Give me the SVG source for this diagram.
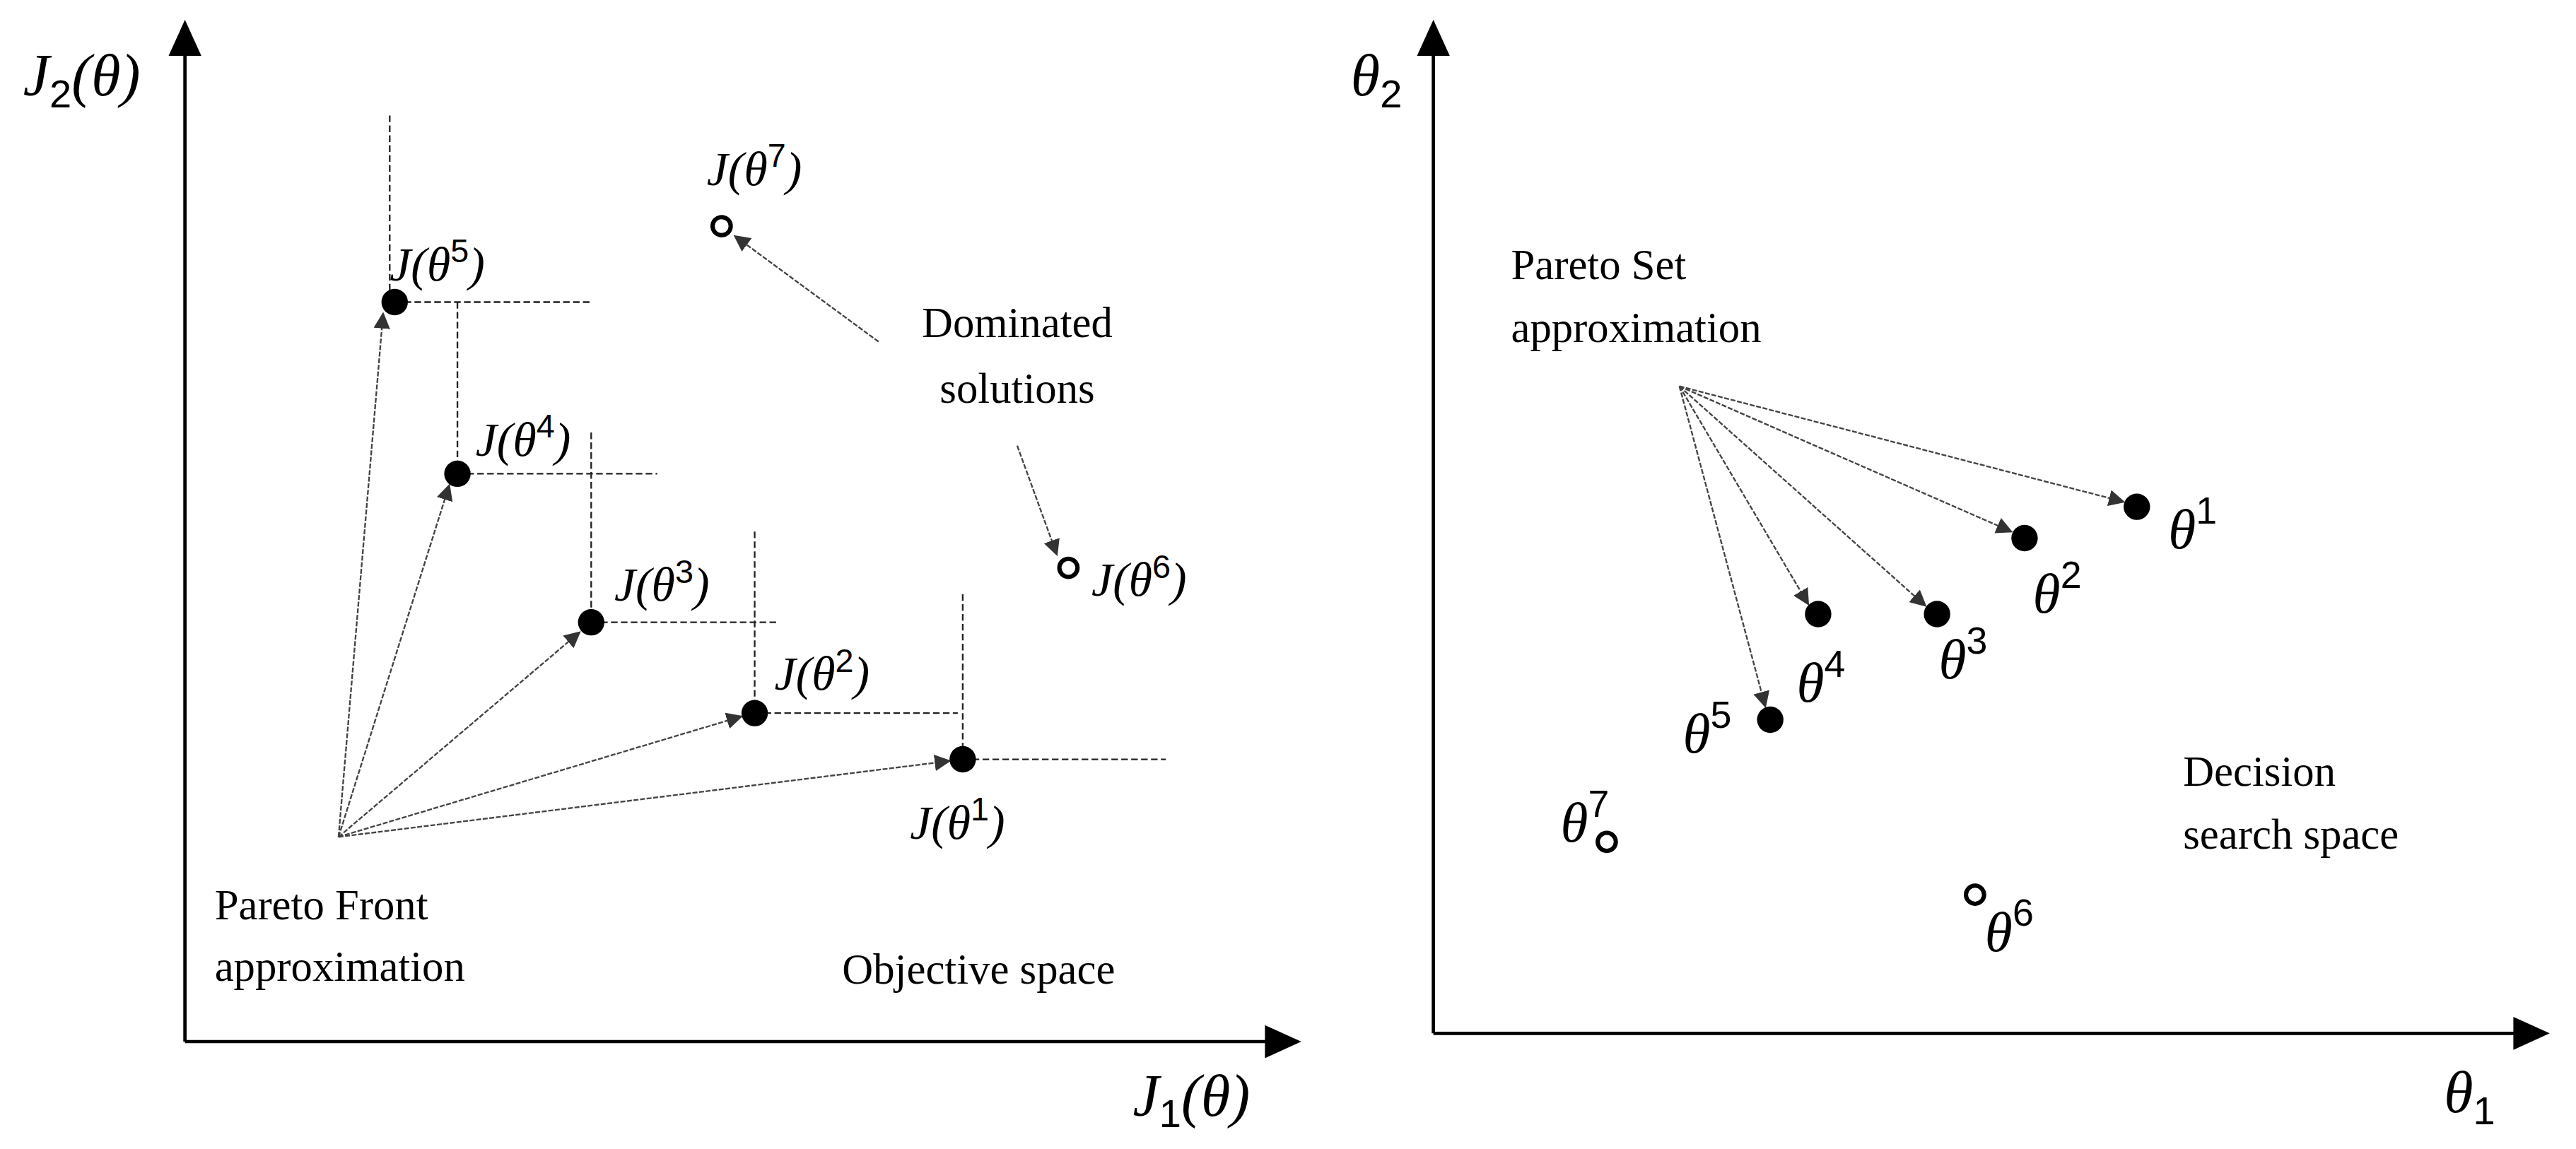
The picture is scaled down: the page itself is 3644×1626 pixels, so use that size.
<svg xmlns="http://www.w3.org/2000/svg" width="3644" height="1626" viewBox="0 0 3644 1626">
<style>
.ax{stroke:#000;stroke-width:2;fill:none}
.dl{stroke:#222;stroke-width:1;stroke-dasharray:4 2;fill:none}
.ar{stroke:#444;stroke-width:1;stroke-dasharray:3 1;fill:none;marker-end:url(#ah)}
.t{font-family:"Liberation Serif",serif;font-size:26px;fill:#000}
.m{font-family:"Liberation Serif",serif;font-style:italic;font-size:29px;fill:#000}
.mt{font-family:"Liberation Serif",serif;font-style:italic;font-size:34px;fill:#000}
.ml{font-family:"Liberation Serif",serif;font-style:italic;font-size:36px;fill:#000}
.s{font-size:20px;font-style:normal;font-family:"Liberation Sans",sans-serif}
.st{font-size:23px;font-style:normal;font-family:"Liberation Sans",sans-serif}
.sl{font-size:24px;font-style:normal;font-family:"Liberation Sans",sans-serif}
.dot{fill:#000}
.op{fill:#fff;stroke:#000;stroke-width:2.6}
</style>
<defs>
<marker id="ah" markerWidth="10" markerHeight="10" refX="9" refY="5" orient="auto" markerUnits="userSpaceOnUse"><path d="M0,0 L10,5 L0,10 z" fill="#333"/></marker>
<marker id="big" markerWidth="24" markerHeight="24" refX="2" refY="12" orient="auto" markerUnits="userSpaceOnUse"><path d="M0,2 L22,12 L0,22 z" fill="#000"/></marker>
</defs>
<rect width="3644" height="1626" fill="#fff"/>
<g transform="scale(2.336)">
<g id="connectors">
<path class="ax" d="M112,631 V32" marker-end="url(#big)"/>
<path class="ax" d="M112,631 H768" marker-end="url(#big)"/>
<path class="ax" d="M868,626 V32" marker-end="url(#big)"/>
<path class="ax" d="M868,626 H1524" marker-end="url(#big)"/>
<path class="dl" d="M236,70 V183 M239,183 H358 M277,183 V287 M277,287 H398 M358,262 V377 M358,377 H471 M457,322 V432 M457,432 H580 M583,360 V460 M583,460 H706"/>
<path class="ar" d="M205,507 L232,190"/>
<path class="ar" d="M205,507 L272,294"/>
<path class="ar" d="M205,507 L351,383"/>
<path class="ar" d="M205,507 L449,434"/>
<path class="ar" d="M205,507 L575,461"/>
<path class="ar" d="M532,207 L445,143"/>
<path class="ar" d="M616,270 L640,336"/>
<path class="ar" d="M1017,234 L1286,304"/>
<path class="ar" d="M1017,234 L1218,322"/>
<path class="ar" d="M1017,234 L1166,367"/>
<path class="ar" d="M1017,234 L1095,366"/>
<path class="ar" d="M1017,234 L1069,428"/>
</g>
<g id="n-J5"><circle class="dot" cx="239" cy="183" r="8"/><text class="m" x="236" y="170">J(θ<tspan class="s" dy="-11">5</tspan><tspan dy="11">)</tspan></text></g>
<g id="n-J4"><circle class="dot" cx="277" cy="287" r="8"/><text class="m" x="288" y="276">J(θ<tspan class="s" dy="-11">4</tspan><tspan dy="11">)</tspan></text></g>
<g id="n-J3"><circle class="dot" cx="358" cy="377" r="8"/><text class="m" x="372" y="364">J(θ<tspan class="s" dy="-11">3</tspan><tspan dy="11">)</tspan></text></g>
<g id="n-J2"><circle class="dot" cx="457" cy="432" r="8"/><text class="m" x="469" y="418">J(θ<tspan class="s" dy="-11">2</tspan><tspan dy="11">)</tspan></text></g>
<g id="n-J1"><circle class="dot" cx="583" cy="460" r="8"/><text class="m" x="551" y="508">J(θ<tspan class="s" dy="-11">1</tspan><tspan dy="11">)</tspan></text></g>
<g id="n-J7"><circle class="op" cx="437" cy="137" r="5.5"/><text class="m" x="428" y="112">J(θ<tspan class="s" dy="-11">7</tspan><tspan dy="11">)</tspan></text></g>
<g id="n-J6"><circle class="op" cx="647" cy="344" r="5.5"/><text class="m" x="661" y="361">J(θ<tspan class="s" dy="-11">6</tspan><tspan dy="11">)</tspan></text></g>
<g id="labels-left">
<text class="ml" x="14" y="58">J<tspan class="sl" dy="7">2</tspan><tspan dy="-7">(θ)</tspan></text>
<text class="ml" x="686" y="676">J<tspan class="sl" dy="7">1</tspan><tspan dy="-7">(θ)</tspan></text>
<text class="t" x="616" y="204" text-anchor="middle">Dominated</text>
<text class="t" x="616" y="244" text-anchor="middle">solutions</text>
<text class="t" x="130" y="557">Pareto Front</text>
<text class="t" x="130" y="594">approximation</text>
<text class="t" x="510" y="596">Objective space</text>
</g>
<g id="n-t1"><circle class="dot" cx="1294" cy="307" r="8"/><text class="mt" x="1313" y="332">θ<tspan class="st" dy="-15">1</tspan></text></g>
<g id="n-t2"><circle class="dot" cx="1226" cy="326" r="8"/><text class="mt" x="1231" y="371">θ<tspan class="st" dy="-15">2</tspan></text></g>
<g id="n-t3"><circle class="dot" cx="1173" cy="372" r="8"/><text class="mt" x="1174" y="411">θ<tspan class="st" dy="-15">3</tspan></text></g>
<g id="n-t4"><circle class="dot" cx="1101" cy="372" r="8"/><text class="mt" x="1088" y="425">θ<tspan class="st" dy="-15">4</tspan></text></g>
<g id="n-t5"><circle class="dot" cx="1072" cy="436" r="8"/><text class="mt" x="1019" y="456">θ<tspan class="st" dy="-15">5</tspan></text></g>
<g id="n-t7"><circle class="op" cx="973" cy="510" r="5.5"/><text class="mt" x="945" y="510">θ<tspan class="st" dy="-15">7</tspan></text></g>
<g id="n-t6"><circle class="op" cx="1196" cy="542" r="5.5"/><text class="mt" x="1202" y="576">θ<tspan class="st" dy="-15">6</tspan></text></g>
<g id="labels-right">
<text class="ml" x="818" y="58">θ<tspan class="sl" dy="7">2</tspan></text>
<text class="ml" x="1480" y="674">θ<tspan class="sl" dy="7">1</tspan></text>
<text class="t" x="915" y="169">Pareto Set</text>
<text class="t" x="915" y="207">approximation</text>
<text class="t" x="1322" y="476">Decision</text>
<text class="t" x="1322" y="514">search space</text>
</g>
</g>
</svg>
